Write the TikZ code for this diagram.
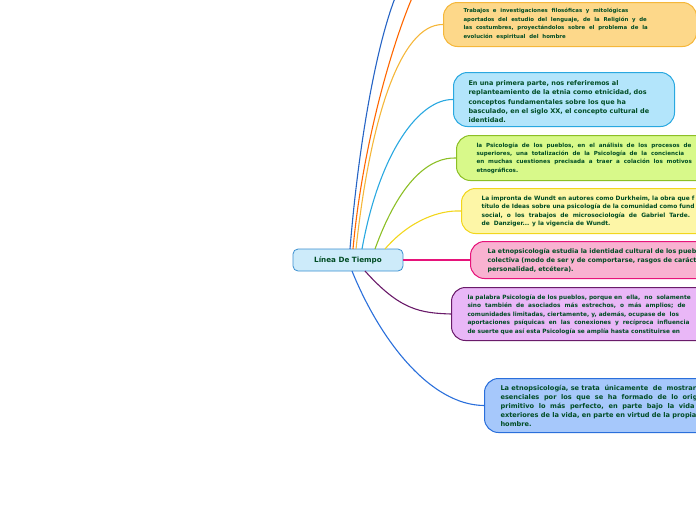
\documentclass[tikz,border=0pt]{standalone}
\usepackage{fontspec}
\setmainfont{DejaVu Sans}
\begin{document}
\begin{tikzpicture}[x=1pt,y=-1pt,
  tb/.style={draw,line width=1pt,rounded corners=14pt,anchor=north west,inner sep=0pt},
  tx/.style={anchor=north west,align=left,text=black!80!blue!70!green},
  cn/.style={line width=1.1pt}]
\useasboundingbox (0,0) rectangle (696,520);
\clip (0,0) rectangle (696,520);
\definecolor{c1f}{HTML}{FDD88A}\definecolor{c1b}{HTML}{F5B73A}
\definecolor{c2f}{HTML}{B3E5FB}\definecolor{c2b}{HTML}{29A8E0}
\definecolor{c3f}{HTML}{D8F98A}\definecolor{c3b}{HTML}{8CBF26}
\definecolor{c4f}{HTML}{FDF6A7}\definecolor{c4b}{HTML}{F2D61C}
\definecolor{c5f}{HTML}{F9B2D1}\definecolor{c5b}{HTML}{E6137A}
\definecolor{c6f}{HTML}{E9B7F7}\definecolor{c6b}{HTML}{6A1B6A}
\definecolor{c7f}{HTML}{A6C8FB}\definecolor{c7b}{HTML}{2A6FDB}
\definecolor{rf}{HTML}{CDEBFA}\definecolor{rb}{HTML}{3A8FD0}
\coordinate (t1) at (395,-2);
\coordinate (t2) at (412,-2);
\node[tb,fill=c1f,draw=c1b,minimum width=253pt,minimum height=44pt] (b1) at (443,2) {};
\node[tx,font=\bfseries\fontsize{5.4}{8.4}\selectfont] (x1) at (460,5) {Trabajos\ \ e\ \ investigaciones\ \ filosóficas\ \ y\ \ mitológicas\\aportados\ \ del\ \ estudio\ \ del\ \ lenguaje,\ \ de\ \ la\ \ Religión\ \ y\ \ de\\las\ \ costumbres,\ \ proyectándolos\ \ sobre\ \ el\ \ problema\ \ de\ \ la\\evolución\ \ espiritual\ \ del\ \ hombre};
\node[tb,fill=c2f,draw=c2b,minimum width=221pt,minimum height=54pt] (b2) at (453,72) {};
\node[tx,font=\bfseries\fontsize{6.5}{9.3}\selectfont] (x2) at (465,77) {En una primera parte, nos referiremos al\\replanteamiento de la etnia como etnicidad, dos\\conceptos fundamentales sobre los que ha\\basculado, en el siglo XX, el concepto cultural de\\identidad.};
\node[tb,fill=c3f,draw=c3b,minimum width=260pt,minimum height=45pt] (b3) at (456,135) {};
\node[tx,font=\bfseries\fontsize{5.6}{8.4}\selectfont] (x3) at (473,139) {la\ \ Psicología\ \ de\ \ los\ \ pueblos,\ \ en\ \ el\ \ análisis\ \ de\ \ los\ \ procesos\ \ de\\superiores,\ \ una\ \ totalización\ \ de\ \ la\ \ Psicología\ \ de\ \ la\ \ conciencia\\en\ \ muchas\ \ cuestiones\ \ precisada\ \ a\ \ traer\ \ a\ \ colación\ \ los\ \ motivos\\etnográficos.};
\node[tb,fill=c4f,draw=c4b,minimum width=260pt,minimum height=45pt] (b4) at (461,188) {};
\node[tx,font=\bfseries\fontsize{5.9}{8.6}\selectfont] (x4) at (478,192) {La impronta de Wundt en autores como Durkheim, la obra que f\\título de Ideas sobre una psicología de la comunidad como fund\\social,\ \ o\ \ los\ \ trabajos\ \ de\ \ microsociología\ \ de\ \ Gabriel\ \ Tarde.\\de\ \ Danziger... y la vigencia de Wundt.};
\node[tb,fill=c5f,draw=c5b,minimum width=260pt,minimum height=37pt] (b5) at (470,241) {};
\node[tx,font=\bfseries\fontsize{6.3}{9}\selectfont] (x5) at (484,245) {La etnopsicología estudia la identidad cultural de los pueblos\\colectiva (modo de ser y de comportarse, rasgos de carácter\\personalidad, etcétera).};
\node[tb,fill=c6f,draw=c6b,minimum width=260pt,minimum height=53pt] (b6) at (451,287) {};
\node[tx,font=\bfseries\fontsize{5.8}{8.6}\selectfont] (x6) at (464,291) {la palabra Psicología de los pueblos, porque en\ \ ella,\ \ no\ \ solamente\\sino\ \ también\ \ de\ \ asociados\ \ más\ \ estrechos,\ \ o\ \ más\ \ amplios;\ \ de\\comunidades limitadas, ciertamente, y, además, ocupase de\ \ los\\aportaciones\ \ psíquicas\ \ en\ \ las\ \ conexiones\ \ y\ \ recíproca\ \ influencia\\de suerte que así esta Psicología se amplía hasta constituirse en};
\node[tb,fill=c7f,draw=c7b,minimum width=260pt,minimum height=54pt] (b7) at (484,378) {};
\node[tx,font=\bfseries\fontsize{6.6}{8.8}\selectfont] (x7) at (497,382) {La etnopsicología, se trata\ \ únicamente\ \ de\ \ mostrar\\esenciales\ \ por\ \ los\ \ que\ \ se\ \ ha\ \ formado\ \ de\ \ lo\ \ original\\primitivo\ \ lo\ \ más\ \ perfecto,\ \ en\ \ parte\ \ bajo\ \ la\ \ vida\\exteriores de la vida, en parte en virtud de la propia\\hombre.};
\node[draw=rb,fill=rf,line width=0.8pt,rounded corners=5pt,minimum width=110pt,minimum height=22pt,font=\bfseries\fontsize{7.2}{9}\selectfont,text=black!80!blue!70!green] (r) at (348,260) {Línea De Tiempo};
\draw[cn,draw=c7b!90!black] (350,249) .. controls (358,150) and (375,50) .. (t1);
\draw[cn,draw=orange!80!red] (353,249) .. controls (362,150) and (390,50) .. (t2);
\draw[cn,draw=c1b] (356,249) .. controls (370,120) and (400,24) .. (b1.west);
\draw[cn,draw=c2b] (362,249) .. controls (380,150) and (420,99) .. (b2.west);
\draw[cn,draw=c3b] (375,249) .. controls (400,180) and (430,157) .. (b3.west);
\draw[cn,draw=c4b] (385,249) .. controls (410,220) and (440,210) .. (b4.west);
\draw[cn,draw=c5b] (r.east) .. controls (430,260) and (450,260) .. (b5.west);
\draw[cn,draw=c6b] (365,271) .. controls (400,310) and (420,313) .. (b6.west);
\draw[cn,draw=c7b] (352,271) .. controls (380,340) and (430,405) .. (b7.west);
\end{tikzpicture}
\end{document}
